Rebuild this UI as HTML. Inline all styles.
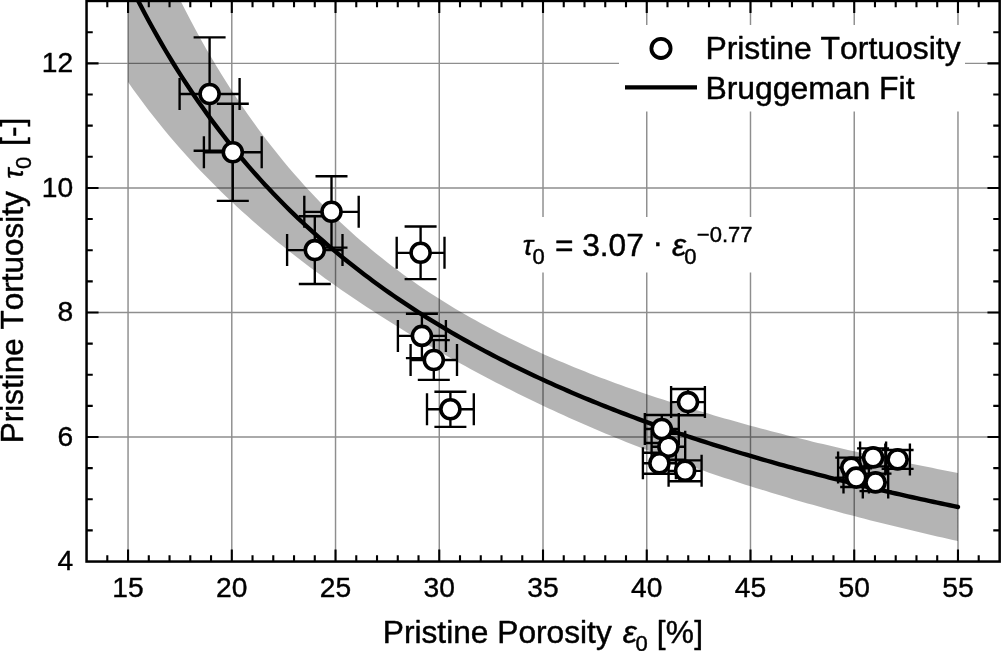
<!DOCTYPE html>
<html lang="en"><head><meta charset="utf-8"><title>Pristine Tortuosity vs Pristine Porosity</title>
<style>html,body{margin:0;padding:0;background:#fff}body{width:1001px;height:651px;overflow:hidden}</style></head>
<body>
<svg width="1001" height="651" viewBox="0 0 1001 651" style="display:block">
<rect width="1001" height="651" fill="#fff"/>
<defs><clipPath id="pc"><rect x="86.55" y="1.12" width="912.91" height="560.43"/></clipPath></defs>
<path d="M128.05 1.12V561.55M231.79 1.12V561.55M335.53 1.12V561.55M439.27 1.12V561.55M543.01 1.12V561.55M646.75 1.12V561.55M750.49 1.12V561.55M854.23 1.12V561.55M957.97 1.12V561.55M86.55 437.01H999.46M86.55 312.47H999.46M86.55 187.93H999.46M86.55 63.39H999.46" stroke="#8e8e8e" stroke-width="1.45" fill="none"/>
<rect x="619" y="25" width="346" height="86.5" fill="#fff"/>
<rect x="518" y="217" width="240" height="55.5" fill="#fff"/>
<path d="M128.05 -121.02 L133.23 -107.24 L138.42 -93.89 L143.61 -80.95 L148.79 -68.40 L153.98 -56.22 L159.17 -44.40 L164.36 -32.92 L169.54 -21.77 L174.73 -10.94 L179.92 -0.40 L185.10 9.84 L190.29 19.80 L195.48 29.50 L200.66 38.94 L205.85 48.13 L211.04 57.08 L216.23 65.80 L221.41 74.30 L226.60 82.58 L231.79 90.66 L236.97 98.54 L242.16 106.22 L247.35 113.72 L252.53 121.03 L257.72 128.17 L262.91 135.15 L268.10 141.95 L273.28 148.60 L278.47 155.09 L283.66 161.43 L288.84 167.63 L294.03 173.69 L299.22 179.60 L304.40 185.39 L309.59 191.04 L314.78 196.57 L319.97 201.98 L325.15 207.26 L330.34 212.43 L335.53 217.49 L340.71 222.43 L345.90 227.27 L351.09 232.00 L356.27 236.64 L361.46 241.17 L366.65 245.60 L371.84 249.94 L377.02 254.19 L382.21 258.35 L387.40 262.42 L392.58 266.41 L397.77 270.32 L402.96 274.14 L408.14 277.89 L413.33 281.56 L418.52 285.15 L423.71 288.68 L428.89 292.13 L434.08 295.52 L439.27 298.84 L444.45 302.09 L449.64 305.28 L454.83 308.42 L460.01 311.49 L465.20 314.50 L470.39 317.46 L475.58 320.37 L480.76 323.22 L485.95 326.03 L491.14 328.78 L496.32 331.48 L501.51 334.14 L506.70 336.76 L511.88 339.33 L517.07 341.85 L522.26 344.34 L527.45 346.78 L532.63 349.19 L537.82 351.56 L543.01 353.89 L548.19 356.19 L553.38 358.45 L558.57 360.67 L563.75 362.87 L568.94 365.03 L574.13 367.16 L579.32 369.26 L584.50 371.34 L589.69 373.38 L594.88 375.39 L600.06 377.38 L605.25 379.34 L610.44 381.28 L615.62 383.19 L620.81 385.07 L626.00 386.93 L631.18 388.77 L636.37 390.59 L641.56 392.38 L646.75 394.15 L651.93 395.90 L657.12 397.63 L662.31 399.34 L667.49 401.03 L672.68 402.69 L677.87 404.34 L683.05 405.97 L688.24 407.59 L693.43 409.18 L698.62 410.76 L703.80 412.32 L708.99 413.86 L714.18 415.39 L719.36 416.90 L724.55 418.39 L729.74 419.87 L734.92 421.33 L740.11 422.78 L745.30 424.22 L750.49 425.64 L755.67 427.04 L760.86 428.43 L766.05 429.81 L771.23 431.17 L776.42 432.52 L781.61 433.86 L786.79 435.19 L791.98 436.50 L797.17 437.80 L802.36 439.09 L807.54 440.36 L812.73 441.63 L817.92 442.88 L823.10 444.12 L828.29 445.35 L833.48 446.57 L838.66 447.78 L843.85 448.98 L849.04 450.17 L854.23 451.34 L859.41 452.51 L864.60 453.67 L869.79 454.81 L874.97 455.95 L880.16 457.08 L885.35 458.20 L890.53 459.30 L895.72 460.40 L900.91 461.50 L906.10 462.58 L911.28 463.65 L916.47 464.71 L921.66 465.77 L926.84 466.82 L932.03 467.86 L937.22 468.89 L942.40 469.91 L947.59 470.92 L952.78 471.93 L957.97 472.93 L957.97 541.03 L952.78 539.88 L947.59 538.72 L942.40 537.56 L937.22 536.38 L932.03 535.20 L926.84 534.00 L921.66 532.80 L916.47 531.58 L911.28 530.35 L906.10 529.11 L900.91 527.86 L895.72 526.61 L890.53 525.33 L885.35 524.05 L880.16 522.76 L874.97 521.45 L869.79 520.14 L864.60 518.81 L859.41 517.47 L854.23 516.12 L849.04 514.75 L843.85 513.38 L838.66 511.99 L833.48 510.58 L828.29 509.17 L823.10 507.74 L817.92 506.30 L812.73 504.84 L807.54 503.38 L802.36 501.89 L797.17 500.40 L791.98 498.89 L786.79 497.36 L781.61 495.82 L776.42 494.27 L771.23 492.70 L766.05 491.12 L760.86 489.52 L755.67 487.90 L750.49 486.27 L745.30 484.63 L740.11 482.97 L734.92 481.29 L729.74 479.59 L724.55 477.88 L719.36 476.15 L714.18 474.41 L708.99 472.64 L703.80 470.86 L698.62 469.06 L693.43 467.25 L688.24 465.41 L683.05 463.56 L677.87 461.69 L672.68 459.80 L667.49 457.89 L662.31 455.96 L657.12 454.01 L651.93 452.04 L646.75 450.05 L641.56 448.04 L636.37 446.01 L631.18 443.96 L626.00 441.89 L620.81 439.80 L615.62 437.68 L610.44 435.55 L605.25 433.39 L600.06 431.21 L594.88 429.01 L589.69 426.78 L584.50 424.53 L579.32 422.26 L574.13 419.97 L568.94 417.65 L563.75 415.31 L558.57 412.95 L553.38 410.56 L548.19 408.14 L543.01 405.70 L537.82 403.24 L532.63 400.76 L527.45 398.24 L522.26 395.71 L517.07 393.14 L511.88 390.56 L506.70 387.94 L501.51 385.30 L496.32 382.64 L491.14 379.95 L485.95 377.23 L480.76 374.49 L475.58 371.72 L470.39 368.92 L465.20 366.09 L460.01 363.24 L454.83 360.37 L449.64 357.46 L444.45 354.53 L439.27 351.57 L434.08 348.58 L428.89 345.56 L423.71 342.51 L418.52 339.44 L413.33 336.33 L408.14 333.20 L402.96 330.03 L397.77 326.83 L392.58 323.60 L387.40 320.34 L382.21 317.05 L377.02 313.72 L371.84 310.36 L366.65 306.96 L361.46 303.53 L356.27 300.05 L351.09 296.54 L345.90 292.99 L340.71 289.40 L335.53 285.77 L330.34 282.10 L325.15 278.38 L319.97 274.61 L314.78 270.80 L309.59 266.94 L304.40 263.03 L299.22 259.06 L294.03 255.04 L288.84 250.97 L283.66 246.83 L278.47 242.64 L273.28 238.39 L268.10 234.07 L262.91 229.68 L257.72 225.22 L252.53 220.70 L247.35 216.10 L242.16 211.42 L236.97 206.67 L231.79 201.83 L226.60 196.91 L221.41 191.89 L216.23 186.79 L211.04 181.59 L205.85 176.30 L200.66 170.90 L195.48 165.40 L190.29 159.78 L185.10 154.06 L179.92 148.21 L174.73 142.24 L169.54 136.15 L164.36 129.92 L159.17 123.55 L153.98 117.04 L148.79 110.38 L143.61 103.56 L138.42 96.58 L133.23 89.44 L128.05 82.11Z" fill="#000" fill-opacity="0.295" clip-path="url(#pc)"/>
<path d="M179.6 94.0H239.6M179.6 78.0V110.0M239.6 78.0V110.0M209.6 37.3V150.7M193.6 37.3H225.6M193.6 150.7H225.6M203.9 152.2H261.7M203.9 136.2V168.2M261.7 136.2V168.2M232.8 103.7V200.9M216.8 103.7H248.8M216.8 200.9H248.8M304.3 211.8H358.7M304.3 195.8V227.8M358.7 195.8V227.8M331.5 176.2V247.6M315.5 176.2H347.5M315.5 247.6H347.5M287.1 250.1H342.5M287.1 234.1V266.1M342.5 234.1V266.1M314.8 216.2V284.0M298.8 216.2H330.8M298.8 284.0H330.8M396.7 252.8H444.5M396.7 236.8V268.8M444.5 236.8V268.8M420.6 226.5V279.1M404.6 226.5H436.6M404.6 279.1H436.6M397.9 335.9H445.9M397.9 319.9V351.9M445.9 319.9V351.9M421.9 313.7V358.1M405.9 313.7H437.9M405.9 358.1H437.9M410.6 360.0H457.0M410.6 344.0V376.0M457.0 344.0V376.0M433.8 340.1V379.9M417.8 340.1H449.8M417.8 379.9H449.8M427.0 409.2H473.8M427.0 393.2V425.2M473.8 393.2V425.2M450.4 391.7V426.8M434.4 391.7H466.4M434.4 426.8H466.4M671.1 402.1H704.9M671.1 386.1V418.1M704.9 386.1V418.1M688.0 389.0V415.2M672.0 389.0H704.0M672.0 415.2H704.0M651.6 446.7H685.2M651.6 430.7V462.7M685.2 430.7V462.7M668.4 433.7V459.7M652.4 433.7H684.4M652.4 459.7H684.4M642.9 463.2H675.9M642.9 447.2V479.2M675.9 447.2V479.2M659.4 452.7V473.7M643.4 452.7H675.4M643.4 473.7H675.4M668.6 470.8H701.6M668.6 454.8V486.8M701.6 454.8V486.8M685.1 460.3V481.2M669.1 460.3H701.1M669.1 481.2H701.1M644.8 429.0H678.8M644.8 413.0V445.0M678.8 413.0V445.0M661.8 415.0V443.0M645.8 415.0H677.8M645.8 443.0H677.8M838.1 467.6H864.5M838.1 451.6V483.6M864.5 451.6V483.6M851.3 457.6V477.6M835.3 457.6H867.3M835.3 477.6H867.3M862.8 482.4H888.2M862.8 466.4V498.4M888.2 466.4V498.4M875.5 473.6V491.1M859.5 473.6H891.5M859.5 491.1H891.5M860.1 457.4H886.1M860.1 441.4V473.4M886.1 441.4V473.4M873.1 448.4V466.4M857.1 448.4H889.1M857.1 466.4H889.1M885.3 459.4H909.9M885.3 443.4V475.4M909.9 443.4V475.4M897.6 450.0V468.8M881.6 450.0H913.6M881.6 468.8H913.6M843.5 477.6H868.9M843.5 461.6V493.6M868.9 461.6V493.6M856.2 468.2V487.0M840.2 468.2H872.2M840.2 487.0H872.2" stroke="#000" stroke-width="2.35" fill="none"/>
<path d="M132.20 -10.99 L136.35 -2.72 L140.49 5.37 L144.64 13.27 L148.79 20.99 L152.94 28.55 L157.09 35.94 L161.24 43.17 L165.39 50.25 L169.54 57.19 L173.69 63.98 L177.84 70.63 L181.99 77.15 L186.14 83.53 L190.29 89.79 L194.44 95.93 L198.59 101.95 L202.74 107.86 L206.89 113.65 L211.04 119.34 L215.19 124.92 L219.34 130.40 L223.49 135.77 L227.64 141.06 L231.79 146.24 L235.94 151.34 L240.09 156.35 L244.23 161.27 L248.38 166.11 L252.53 170.87 L256.68 175.54 L260.83 180.14 L264.98 184.67 L269.13 189.11 L273.28 193.49 L277.43 197.80 L281.58 202.04 L285.73 206.21 L289.88 210.32 L294.03 214.36 L298.18 218.35 L302.33 222.27 L306.48 226.13 L310.63 229.94 L314.78 233.69 L318.93 237.38 L323.08 241.02 L327.23 244.61 L331.38 248.14 L335.53 251.63 L339.68 255.07 L343.83 258.46 L347.97 261.80 L352.12 265.09 L356.27 268.34 L360.42 271.55 L364.57 274.72 L368.72 277.84 L372.87 280.92 L377.02 283.96 L381.17 286.96 L385.32 289.92 L389.47 292.84 L393.62 295.73 L397.77 298.57 L401.92 301.39 L406.07 304.17 L410.22 306.91 L414.37 309.62 L418.52 312.30 L422.67 314.94 L426.82 317.55 L430.97 320.13 L435.12 322.68 L439.27 325.20 L443.42 327.69 L447.57 330.15 L451.71 332.58 L455.86 334.99 L460.01 337.37 L464.16 339.72 L468.31 342.04 L472.46 344.34 L476.61 346.61 L480.76 348.85 L484.91 351.08 L489.06 353.27 L493.21 355.45 L497.36 357.60 L501.51 359.72 L505.66 361.83 L509.81 363.91 L513.96 365.97 L518.11 368.01 L522.26 370.02 L526.41 372.02 L530.56 373.99 L534.71 375.95 L538.86 377.88 L543.01 379.80 L547.16 381.69 L551.31 383.57 L555.45 385.43 L559.60 387.27 L563.75 389.09 L567.90 390.89 L572.05 392.68 L576.20 394.45 L580.35 396.20 L584.50 397.94 L588.65 399.65 L592.80 401.36 L596.95 403.04 L601.10 404.71 L605.25 406.37 L609.40 408.01 L613.55 409.63 L617.70 411.24 L621.85 412.83 L626.00 414.41 L630.15 415.98 L634.30 417.53 L638.45 419.07 L642.60 420.59 L646.75 422.10 L650.90 423.60 L655.05 425.08 L659.19 426.55 L663.34 428.01 L667.49 429.46 L671.64 430.89 L675.79 432.31 L679.94 433.72 L684.09 435.12 L688.24 436.50 L692.39 437.87 L696.54 439.23 L700.69 440.59 L704.84 441.92 L708.99 443.25 L713.14 444.57 L717.29 445.88 L721.44 447.17 L725.59 448.46 L729.74 449.73 L733.89 451.00 L738.04 452.25 L742.19 453.50 L746.34 454.73 L750.49 455.95 L754.64 457.17 L758.79 458.38 L762.93 459.57 L767.08 460.76 L771.23 461.94 L775.38 463.11 L779.53 464.27 L783.68 465.42 L787.83 466.56 L791.98 467.69 L796.13 468.82 L800.28 469.94 L804.43 471.04 L808.58 472.14 L812.73 473.24 L816.88 474.32 L821.03 475.40 L825.18 476.47 L829.33 477.53 L833.48 478.58 L837.63 479.62 L841.78 480.66 L845.93 481.69 L850.08 482.71 L854.23 483.73 L858.38 484.74 L862.53 485.74 L866.67 486.73 L870.82 487.72 L874.97 488.70 L879.12 489.68 L883.27 490.64 L887.42 491.60 L891.57 492.56 L895.72 493.50 L899.87 494.45 L904.02 495.38 L908.17 496.31 L912.32 497.23 L916.47 498.15 L920.62 499.06 L924.77 499.96 L928.92 500.86 L933.07 501.75 L937.22 502.63 L941.37 503.51 L945.52 504.39 L949.67 505.26 L953.82 506.12 L957.97 506.98" stroke="#000" stroke-width="4.4" fill="none" stroke-linecap="round" clip-path="url(#pc)"/>
<circle cx="209.6" cy="94.0" r="9.5" fill="#fff" stroke="#000" stroke-width="3.6"/>
<circle cx="232.8" cy="152.2" r="9.5" fill="#fff" stroke="#000" stroke-width="3.6"/>
<circle cx="331.5" cy="211.8" r="9.5" fill="#fff" stroke="#000" stroke-width="3.6"/>
<circle cx="314.8" cy="250.1" r="9.5" fill="#fff" stroke="#000" stroke-width="3.6"/>
<circle cx="420.6" cy="252.8" r="9.5" fill="#fff" stroke="#000" stroke-width="3.6"/>
<circle cx="421.9" cy="335.9" r="9.5" fill="#fff" stroke="#000" stroke-width="3.6"/>
<circle cx="433.8" cy="360.0" r="9.5" fill="#fff" stroke="#000" stroke-width="3.6"/>
<circle cx="450.4" cy="409.2" r="9.5" fill="#fff" stroke="#000" stroke-width="3.6"/>
<circle cx="688.0" cy="402.1" r="9.5" fill="#fff" stroke="#000" stroke-width="3.6"/>
<circle cx="668.4" cy="446.7" r="9.5" fill="#fff" stroke="#000" stroke-width="3.6"/>
<circle cx="659.4" cy="463.2" r="9.5" fill="#fff" stroke="#000" stroke-width="3.6"/>
<circle cx="685.1" cy="470.8" r="9.5" fill="#fff" stroke="#000" stroke-width="3.6"/>
<circle cx="661.8" cy="429.0" r="9.5" fill="#fff" stroke="#000" stroke-width="3.6"/>
<circle cx="851.3" cy="467.6" r="9.5" fill="#fff" stroke="#000" stroke-width="3.6"/>
<circle cx="875.5" cy="482.4" r="9.5" fill="#fff" stroke="#000" stroke-width="3.6"/>
<circle cx="873.1" cy="457.4" r="9.5" fill="#fff" stroke="#000" stroke-width="3.6"/>
<circle cx="897.6" cy="459.4" r="9.5" fill="#fff" stroke="#000" stroke-width="3.6"/>
<circle cx="856.2" cy="477.6" r="9.5" fill="#fff" stroke="#000" stroke-width="3.6"/>
<path d="M107.30 561.55v-6.2M107.30 1.12v6.2M128.05 561.55v-12.0M128.05 1.12v12.0M148.79 561.55v-6.2M148.79 1.12v6.2M169.54 561.55v-6.2M169.54 1.12v6.2M190.29 561.55v-6.2M190.29 1.12v6.2M211.04 561.55v-6.2M211.04 1.12v6.2M231.79 561.55v-12.0M231.79 1.12v12.0M252.53 561.55v-6.2M252.53 1.12v6.2M273.28 561.55v-6.2M273.28 1.12v6.2M294.03 561.55v-6.2M294.03 1.12v6.2M314.78 561.55v-6.2M314.78 1.12v6.2M335.53 561.55v-12.0M335.53 1.12v12.0M356.27 561.55v-6.2M356.27 1.12v6.2M377.02 561.55v-6.2M377.02 1.12v6.2M397.77 561.55v-6.2M397.77 1.12v6.2M418.52 561.55v-6.2M418.52 1.12v6.2M439.27 561.55v-12.0M439.27 1.12v12.0M460.01 561.55v-6.2M460.01 1.12v6.2M480.76 561.55v-6.2M480.76 1.12v6.2M501.51 561.55v-6.2M501.51 1.12v6.2M522.26 561.55v-6.2M522.26 1.12v6.2M543.01 561.55v-12.0M543.01 1.12v12.0M563.75 561.55v-6.2M563.75 1.12v6.2M584.50 561.55v-6.2M584.50 1.12v6.2M605.25 561.55v-6.2M605.25 1.12v6.2M626.00 561.55v-6.2M626.00 1.12v6.2M646.75 561.55v-12.0M646.75 1.12v12.0M667.49 561.55v-6.2M667.49 1.12v6.2M688.24 561.55v-6.2M688.24 1.12v6.2M708.99 561.55v-6.2M708.99 1.12v6.2M729.74 561.55v-6.2M729.74 1.12v6.2M750.49 561.55v-12.0M750.49 1.12v12.0M771.23 561.55v-6.2M771.23 1.12v6.2M791.98 561.55v-6.2M791.98 1.12v6.2M812.73 561.55v-6.2M812.73 1.12v6.2M833.48 561.55v-6.2M833.48 1.12v6.2M854.23 561.55v-12.0M854.23 1.12v12.0M874.97 561.55v-6.2M874.97 1.12v6.2M895.72 561.55v-6.2M895.72 1.12v6.2M916.47 561.55v-6.2M916.47 1.12v6.2M937.22 561.55v-6.2M937.22 1.12v6.2M957.97 561.55v-12.0M957.97 1.12v12.0M978.71 561.55v-6.2M978.71 1.12v6.2M86.55 530.41h6.2M999.46 530.41h-6.2M86.55 499.28h6.2M999.46 499.28h-6.2M86.55 468.14h6.2M999.46 468.14h-6.2M86.55 437.01h12.0M999.46 437.01h-12.0M86.55 405.87h6.2M999.46 405.87h-6.2M86.55 374.74h6.2M999.46 374.74h-6.2M86.55 343.60h6.2M999.46 343.60h-6.2M86.55 312.47h12.0M999.46 312.47h-12.0M86.55 281.33h6.2M999.46 281.33h-6.2M86.55 250.20h6.2M999.46 250.20h-6.2M86.55 219.06h6.2M999.46 219.06h-6.2M86.55 187.93h12.0M999.46 187.93h-12.0M86.55 156.79h6.2M999.46 156.79h-6.2M86.55 125.66h6.2M999.46 125.66h-6.2M86.55 94.52h6.2M999.46 94.52h-6.2M86.55 63.39h12.0M999.46 63.39h-12.0M86.55 32.25h6.2M999.46 32.25h-6.2" stroke="#000" stroke-width="2.1" fill="none"/>
<rect x="86.55" y="0.95" width="913.11" height="560.60" fill="none" stroke="#000" stroke-width="2.5"/>
<g font-family="Liberation Sans, Arial, sans-serif" font-kerning="none" style="font-kerning:none" font-size="28.2" fill="#000" stroke="#000" stroke-width="0.4" stroke-linejoin="round">
<text x="128.0" y="596.5" text-anchor="middle">15</text>
<text x="231.8" y="596.5" text-anchor="middle">20</text>
<text x="335.5" y="596.5" text-anchor="middle">25</text>
<text x="439.3" y="596.5" text-anchor="middle">30</text>
<text x="543.0" y="596.5" text-anchor="middle">35</text>
<text x="646.7" y="596.5" text-anchor="middle">40</text>
<text x="750.5" y="596.5" text-anchor="middle">45</text>
<text x="854.2" y="596.5" text-anchor="middle">50</text>
<text x="958.0" y="596.5" text-anchor="middle">55</text>
<text x="73.2" y="570.2" text-anchor="end">4</text>
<text x="73.2" y="445.7" text-anchor="end">6</text>
<text x="73.2" y="321.2" text-anchor="end">8</text>
<text x="73.2" y="196.6" text-anchor="end">10</text>
<text x="73.2" y="72.1" text-anchor="end">12</text>
</g>
<circle cx="661" cy="48.4" r="9.6" fill="#fff" stroke="#000" stroke-width="3.8"/>
<path d="M625 87.4H697" stroke="#000" stroke-width="4.3"/>
<g font-family="Liberation Sans, Arial, sans-serif" font-kerning="none" style="font-kerning:none" font-size="31.7" fill="#000" stroke="#000" stroke-width="0.45" stroke-linejoin="round">
<text x="705.4" y="59.4" font-size="31.9">Pristine Tortuosity</text>
<text x="705.4" y="98.5" font-size="31.9">Bruggeman Fit</text>
<text><tspan x="522.8" y="255.3" font-style="italic" font-size="27.5">τ</tspan><tspan x="532.6" y="263.6" font-size="22.0">0</tspan><tspan x="554.9" y="255.5">=</tspan><tspan x="582.2" y="255.5">3.07</tspan><tspan x="652.5" y="252.6">·</tspan><tspan x="672.0" y="255.5" font-style="italic">ε</tspan><tspan x="684.2" y="263.8" font-size="22.0">0</tspan><tspan x="696.8" y="242.3" font-size="22.0">−0.77</tspan></text>
<text><tspan x="382.8" y="642.5">Pristine Porosity</tspan><tspan x="622.8" y="642.5" font-style="italic">ε</tspan><tspan x="635.6" y="650.9" font-size="22.0">0</tspan><tspan x="656.8" y="642.5" letter-spacing="0.25">[%]</tspan></text>
<text transform="translate(22.8 0) rotate(-90)"><tspan x="-443.3" y="0" font-size="31.5">Pristine Tortuosity</tspan><tspan x="-178.8" y="0" font-style="italic" font-size="27.5">τ</tspan><tspan x="-169.1" y="8.6" font-size="22.0">0</tspan><tspan x="-145.9" y="0">[-]</tspan></text>
</g>
</svg>
</body></html>
